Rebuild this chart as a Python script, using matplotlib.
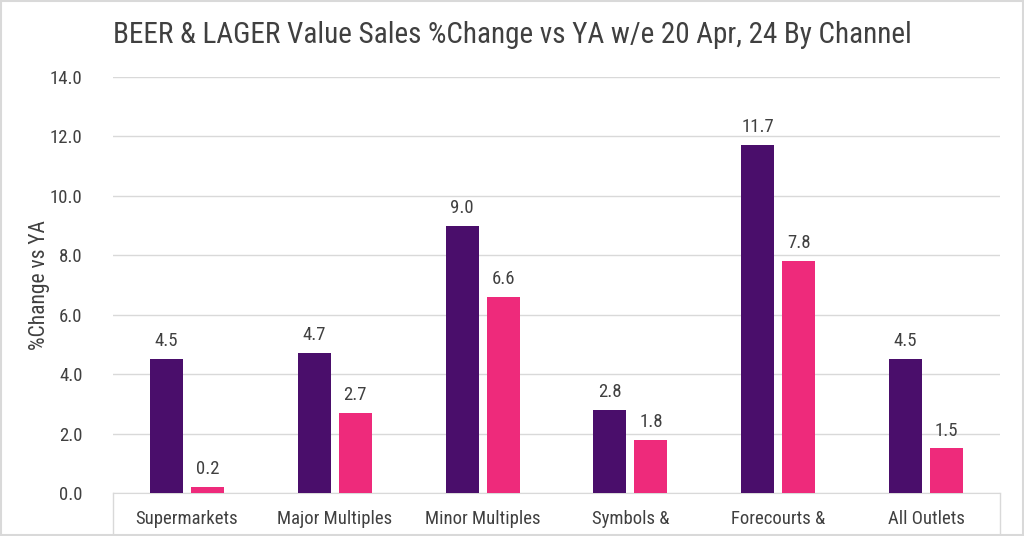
import matplotlib
matplotlib.use("Agg")
import matplotlib.pyplot as plt
from matplotlib import font_manager
from matplotlib.patches import Rectangle
import numpy as np

names = sorted({f.name for f in font_manager.fontManager.ttflist})
FONT = "Roboto"
for cand in ["Roboto Condensed", "Liberation Sans Narrow", "Open Sans Condensed"]:
    if cand in names:
        FONT = cand
        break
plt.rcParams['font.family'] = [FONT, 'DejaVu Sans']

categories = ["Supermarkets", "Major Multiples\nConvenience &\nMixed", "Minor Multiples",
              "Symbols &\nIndependents", "Forecourts &\nTravel", "All Outlets"]
series_a = [4.5, 4.7, 9.0, 2.8, 11.7, 4.5]
series_b = [0.2, 2.7, 6.6, 1.8, 7.8, 1.5]
yticks = [0, 2, 4, 6, 8, 10, 12, 14]

purple = "#4A0E6B"
pink = "#EE2A7B"
text_col = "#404040"

fig = plt.figure(figsize=(10.24, 5.36), dpi=100)
ax = fig.add_axes([113/1024, 1-493/536, 887/1024, 416/536])

x = np.arange(len(categories))
w = 0.223
off = 0.139
ax.bar(x - off, series_a, w, color=purple, zorder=3)
ax.bar(x + off, series_b, w, color=pink, zorder=3)
for xi, v in zip(x, series_a):
    ax.text(xi - off, v + 0.3, f"{v:.1f}", ha='center', va='bottom', fontsize=13.5, color=text_col)
for xi, v in zip(x, series_b):
    ax.text(xi + off, v + 0.3, f"{v:.1f}", ha='center', va='bottom', fontsize=13.5, color=text_col)

ax.set_xlim(-0.5, len(categories) - 0.5)
ax.set_ylim(0, 14)
ax.set_yticks(yticks)
ax.set_yticklabels([f"{t:.1f}" for t in yticks], fontsize=13.5, color=text_col)
ax.set_xticks(x)
ax.set_xticklabels(categories, fontsize=13.5, color=text_col, va='top', linespacing=1.45)
ax.tick_params(axis='both', length=0)
ax.tick_params(axis='x', pad=12)
ax.tick_params(axis='y', pad=22)
ax.grid(axis='y', color='#d9d9d9', linewidth=1, zorder=0)
for s in ['top', 'right', 'left']:
    ax.spines[s].set_visible(False)
ax.spines['bottom'].set_color('#d9d9d9')
ax.set_ylabel("%Change vs YA", fontsize=15.5, color=text_col)
ax.yaxis.set_label_coords(-0.071, 0.5)

# box edges of category axis
for xe in [-0.5, len(categories) - 0.5]:
    ax.plot([xe, xe], [0, -3], color='#d9d9d9', lw=1, clip_on=False, zorder=1)

fig.text(512/1024, 1-35/536, "BEER & LAGER Value Sales %Change vs YA w/e 20 Apr, 24 By Channel",
         ha='center', va='center', fontsize=21, color=text_col)

fig.patches.append(Rectangle((0.001, 0.001), 0.998, 0.997, transform=fig.transFigure,
                             fill=False, edgecolor='#d9d9d9', lw=1.5))
fig.savefig("out.png", dpi=100)
